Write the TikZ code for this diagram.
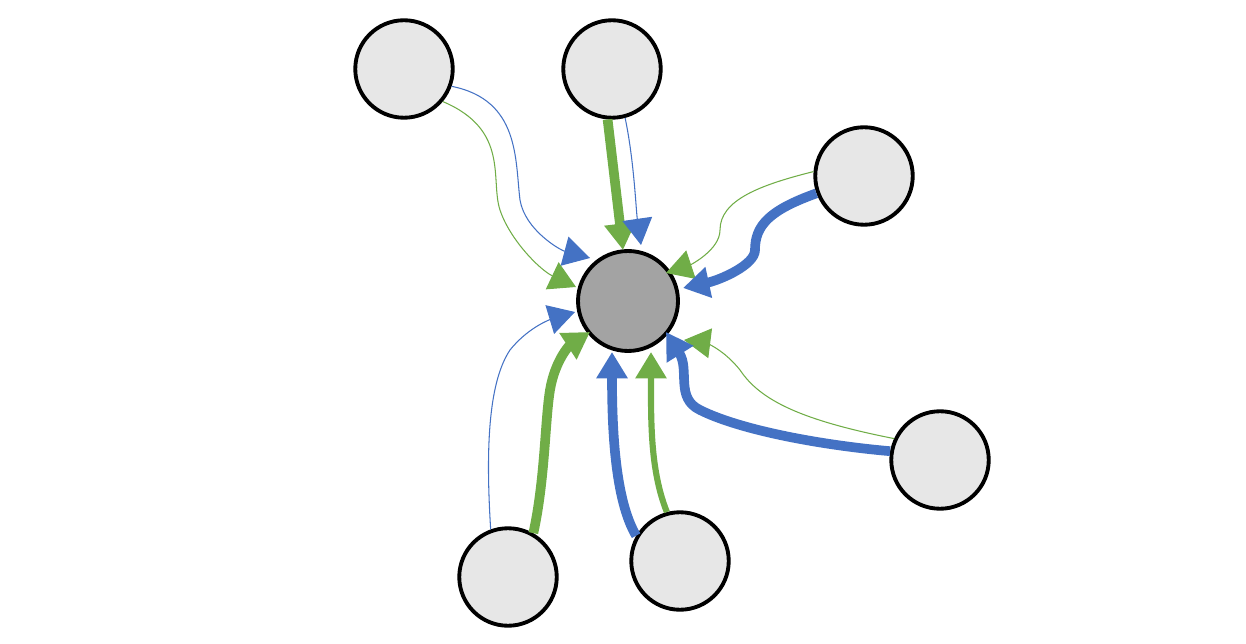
\documentclass[tikz,border=0pt]{standalone}
\usetikzlibrary{arrows.meta}
\definecolor{gr}{RGB}{112,173,71}
\definecolor{bl}{RGB}{68,114,196}
\begin{document}
\begin{tikzpicture}[x=0.02cm,y=-0.02cm,
 outer/.style={circle,draw=black,line width=2.2pt,fill={rgb,255:red,231;green,231;blue,231},minimum size=1.95cm,inner sep=0},
 hub/.style={circle,draw=black,line width=2.2pt,fill={rgb,255:red,163;green,163;blue,163},minimum size=2.0cm,inner sep=0},
 tip/.style={-{Triangle[length=15pt,width=17pt]}},
 thin/.style={line width=0.6pt},
 med/.style={line width=3.5pt},
 fat/.style={line width=5.5pt}]
\useasboundingbox (0,0) rectangle (1246,644);
\node[hub] (H) at (628,301) {};
\node[outer] (A) at (404,69) {};
\node[outer] (B) at (612,69) {};
\node[outer] (C) at (864,176) {};
\node[outer] (D) at (940,460) {};
\node[outer] (E) at (508,577) {};
\node[outer] (F) at (680,561) {};
\coordinate (ta1) at (576,287); \coordinate (ta2) at (590,258);
\coordinate (tb1) at (623,250); \coordinate (tb2) at (641,245);
\coordinate (tc1) at (666,273); \coordinate (tc2) at (683,288);
\coordinate (td1) at (684,340); \coordinate (td2) at (666,332);
\coordinate (te1) at (575,312); \coordinate (te2) at (590,332);
\coordinate (tf1) at (612,352); \coordinate (tf2) at (651,352);
% A
\draw[gr,thin,tip] (A.-40) .. controls (510,130) and (490,180) .. (500,210) .. controls (510,240) and (540,270) .. (ta1);
\draw[bl,thin,tip] (A.-20) .. controls (520,100) and (515,160) .. (520,200) .. controls (525,230) and (560,250) .. (ta2);
% B
\draw[gr,fat,tip] (B.-95) -- (tb1);
\draw[bl,thin,tip] (B.-75) .. controls (634,160) and (636,210) .. (tb2);
% C
\draw[gr,thin,tip] (C.175) .. controls (760,185) and (720,200) .. (720,230) .. controls (720,250) and (690,265) .. (tc1);
\draw[bl,fat,tip] (C.200) .. controls (770,210) and (755,225) .. (755,250) .. controls (755,265) and (720,280) .. (tc2);
% D
\draw[gr,thin,tip] (D.155) .. controls (800,420) and (760,400) .. (740,370) .. controls (720,345) and (700,342) .. (td1);
\draw[bl,fat,tip] (D.170) .. controls (820,445) and (740,430) .. (700,410) .. controls (675,398) and (690,370) .. (td2);
% E
\draw[bl,thin,tip] (E.110) .. controls (485,440) and (490,380) .. (510,350) .. controls (530,325) and (555,318) .. (te1);
\draw[gr,fat,tip] (E.60) .. controls (545,480) and (545,420) .. (550,390) .. controls (555,360) and (570,345) .. (te2);
% F
\draw[bl,fat,tip] (F.150) .. controls (615,500) and (612,430) .. (tf1);
\draw[gr,med,tip] (F.105) .. controls (650,470) and (651,420) .. (tf2);
\end{tikzpicture}
\end{document}
